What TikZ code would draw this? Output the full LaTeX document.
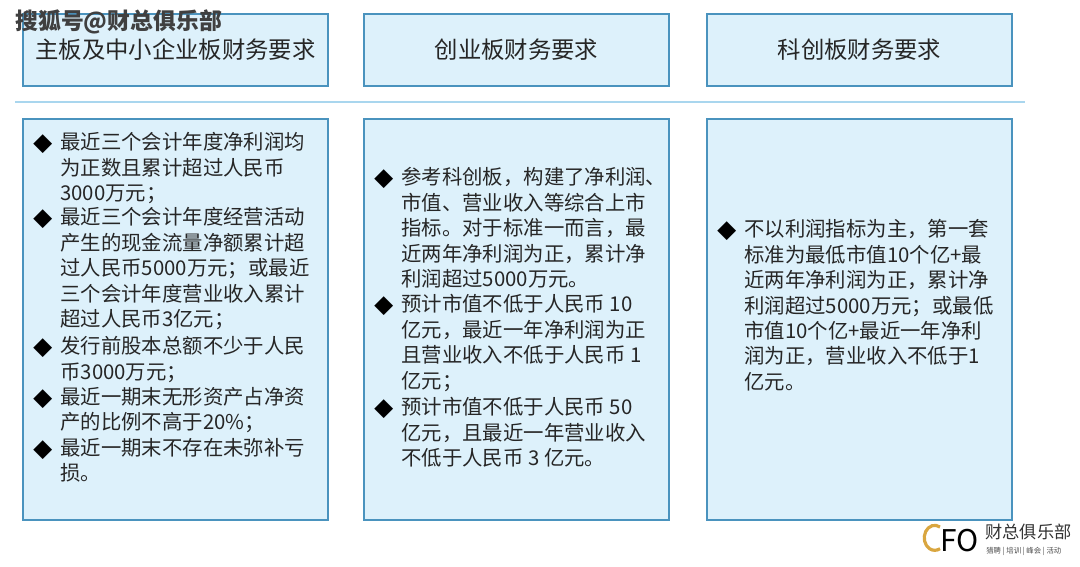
\documentclass[tikz,border=0pt]{standalone}
\usepackage{fontspec}
\setmainfont{Noto Sans CJK SC}
\newfontfamily\latinfont{Liberation Serif}
\usetikzlibrary{positioning}
\definecolor{boxfill}{HTML}{DDF1FB}
\definecolor{boxline}{HTML}{4A93BE}
\definecolor{ruleline}{HTML}{A9D6EE}
\definecolor{logogold}{HTML}{D9A640}
\tikzset{
  panel/.style={draw=boxline, line width=1.3pt, fill=boxfill},
  headtext/.style={font=\fontsize{13.3pt}{16pt}\selectfont, text=black!85},
  bullet/.style={anchor=north west, inner sep=0pt, font=\fontsize{11pt}{14.5pt}\selectfont},
  itemtext/.style={anchor=north west, inner sep=0pt, align=left, text=black!85,
    font=\fontsize{11.6pt}{14.5pt}\selectfont}
}
\begin{document}
\begin{tikzpicture}[x=0.02cm, y=-0.02cm]
\useasboundingbox (0,0) rectangle (1080,566);

% header boxes
\draw[panel] (23,14) rectangle (328,86) node[midway, headtext] (headA) {主板及中小企业板财务要求};
\draw[panel] (364,14) rectangle (669,86) node[midway, headtext] (headB) {创业板财务要求};
\draw[panel] (707,14) rectangle (1012,86) node[midway, headtext] (headC) {科创板财务要求};

\draw[ruleline, line width=0.8pt] (15,102) -- (1025,102);

% content boxes
\draw[panel] (23,119) rectangle (328,520);
\draw[panel] (364,119) rectangle (669,520);
\draw[panel] (707,119) rectangle (1012,520);

% left column
\node[bullet] (bA1) at (33,134) {◆};
\node[itemtext] (tA1) at (60,132) {最近三个会计年度净利润均\\为正数且累计超过人民币\\3000万元；};
\node[bullet] (bA2) at (33,209) {◆};
\node[itemtext] (tA2) at (60,207) {最近三个会计年度经营活动\\产生的现金流量净额累计超\\过人民币5000万元；或最近\\三个会计年度营业收入累计\\超过人民币3亿元；};
\node[bullet] (bA3) at (33,338) {◆};
\node[itemtext] (tA3) at (60,336) {发行前股本总额不少于人民\\币3000万元；};
\node[bullet] (bA4) at (33,389) {◆};
\node[itemtext] (tA4) at (60,387) {最近一期末无形资产占净资\\产的比例不高于20\%；};
\node[bullet] (bA5) at (33,440) {◆};
\node[itemtext] (tA5) at (60,438) {最近一期末不存在未弥补亏\\损。};

% middle column
\node[bullet] (bB1) at (374,169) {◆};
\node[itemtext] (tB1) at (401,167) {参考科创板，构建了净利润、\\市值、营业收入等综合上市\\指标。对于标准一而言，最\\近两年净利润为正，累计净\\利润超过5000万元。};
\node[bullet] (bB2) at (374,296) {◆};
\node[itemtext] (tB2) at (401,294) {预计市值不低于人民币 10\\亿元，最近一年净利润为正\\且营业收入不低于人民币 1\\亿元；};
\node[bullet] (bB3) at (374,399) {◆};
\node[itemtext] (tB3) at (401,397) {预计市值不低于人民币 50\\亿元，且最近一年营业收入\\不低于人民币 3 亿元。};

% right column
\node[bullet] (bC1) at (717,221) {◆};
\node[itemtext] (tC1) at (744,219) {不以利润指标为主，第一套\\标准为最低市值10个亿+最\\近两年净利润为正，累计净\\利润超过5000万元；或最低\\市值10个亿+最近一年净利\\润为正，营业收入不低于1\\亿元。};

% watermark and logo
\node[anchor=west, inner sep=0pt, text=black!75, font=\fontsize{13pt}{15pt}\selectfont\bfseries] (mark) at (15,22) {搜狐号@财总俱乐部};
\draw[logogold, line width=1.8pt] (940,527) arc[start angle=60, end angle=300, x radius=0.21cm, y radius=0.25cm];
\node[anchor=west, inner sep=0pt, font=\fontsize{17pt}{17pt}\selectfont] (fo) at (940,541) {FO};
\node[anchor=west, inner sep=0pt, text=black!80, font=\fontsize{9.8pt}{11pt}\selectfont] (clubname) at (985,532) {财总俱乐部};
\node[anchor=west, inner sep=0pt, text=black!70, font=\fontsize{4.2pt}{5pt}\selectfont] (clubtag) at (986,551) {猎聘 | 培训 | 峰会 | 活动};
\end{tikzpicture}
\end{document}
